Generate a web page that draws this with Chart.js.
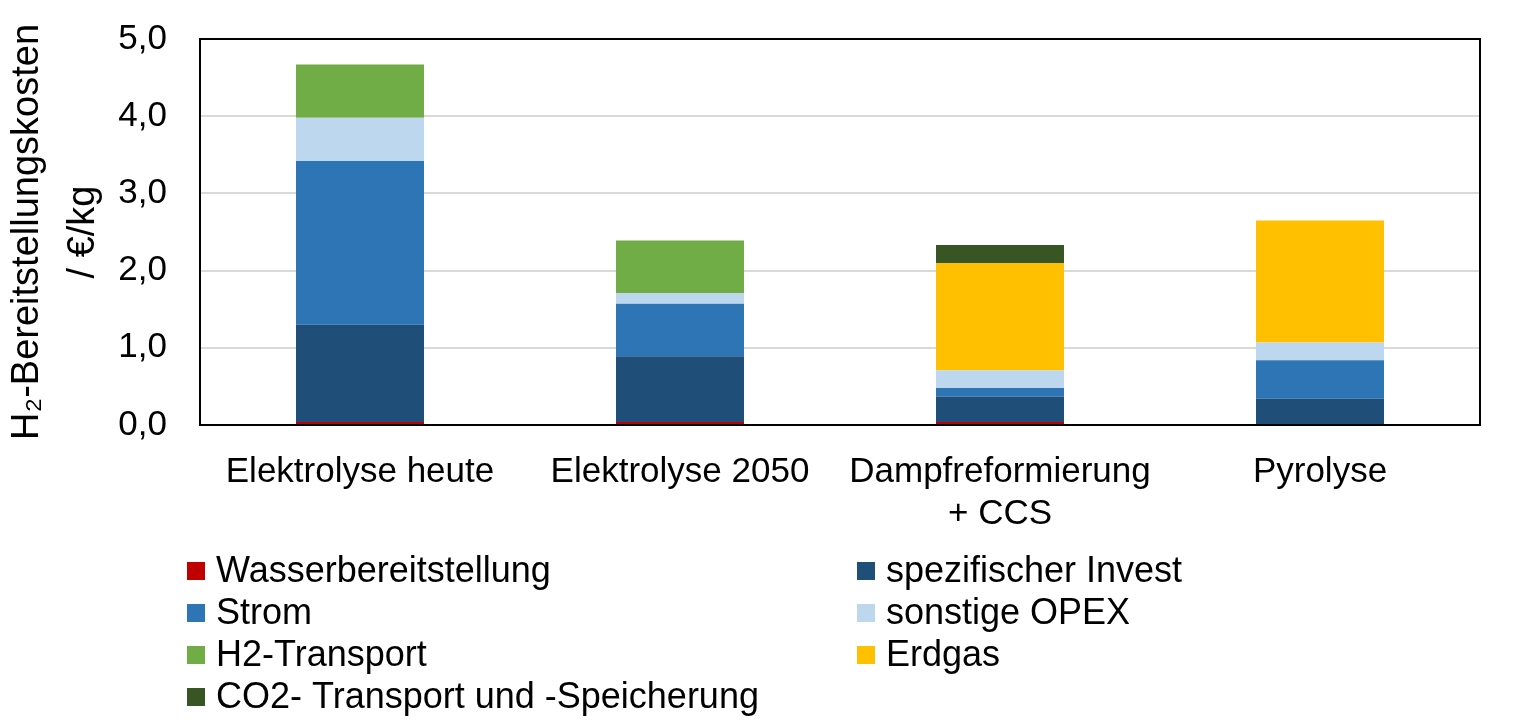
<!DOCTYPE html>
<html>
<head>
<meta charset="utf-8">
<script src="https://cdn.jsdelivr.net/npm/chart.js@4"></script>
<style>
  html, body { margin: 0; padding: 0; background: #fff; }
  #wrap { width: 1517px; height: 723px; }
</style>
</head>
<body>
<div id="wrap"><canvas id="myChart" width="1517" height="723"></canvas></div>
<script>
var categories = ["Elektrolyse heute", "Elektrolyse 2050", ["Dampfreformierung", "+ CCS"], "Pyrolyse"];

var wasser = [0.04, 0.04, 0.04, 0];
var invest = [1.26, 0.85, 0.33, 0.34];
var strom  = [2.12, 0.68, 0.11, 0.50];
var opex   = [0.56, 0.14, 0.23, 0.23];
var h2Transport = [0.69, 0.68, 0, 0];
var erdgas = [0, 0, 1.39, 1.58];
var co2Transport = [0, 0, 0.23, 0];

var yTicks = [0, 1, 2, 3, 4, 5];

var FONT = "'Liberation Sans', Arial, sans-serif";

// legend drawn in two columns, row by row, like the original
var legendPlugin = {
  id: "twoColLegend",
  afterDraw: function(chart) {
    var ctx = chart.ctx;
    var ds = chart.data.datasets;
    ctx.save();
    ctx.font = "36px " + FONT;
    ctx.textBaseline = "middle";
    ctx.textAlign = "left";
    for (var i = 0; i < ds.length; i++) {
      var col = i % 2, row = Math.floor(i / 2);
      var x = col == 0 ? 187 : 857;
      var y = 571 + row * 42;
      ctx.fillStyle = ds[i].backgroundColor;
      ctx.fillRect(x, y - 9, 18, 18);
      ctx.fillStyle = "#000";
      ctx.fillText(ds[i].label, x + 29, y + 1);
    }
    // plot frame
    var a = chart.chartArea;
    ctx.strokeStyle = "#000";
    ctx.lineWidth = 2;
    ctx.strokeRect(a.left, a.top, a.right - a.left, a.bottom - a.top);
    ctx.restore();
  }
};

var ctx = document.getElementById("myChart");
var myChart = new Chart(ctx, {
  type: "bar",
  data: {
    labels: categories,
    datasets: [
      { label: "Wasserbereitstellung", data: wasser, backgroundColor: "#C00000" },
      { label: "spezifischer Invest", data: invest, backgroundColor: "#1F4E79" },
      { label: "Strom", data: strom, backgroundColor: "#2E75B6" },
      { label: "sonstige OPEX", data: opex, backgroundColor: "#BDD7EE" },
      { label: "H2-Transport", data: h2Transport, backgroundColor: "#70AD47" },
      { label: "Erdgas", data: erdgas, backgroundColor: "#FFC000" },
      { label: "CO2- Transport und -Speicherung", data: co2Transport, backgroundColor: "#375623" }
    ]
  },
  options: {
    responsive: false,
    animation: false,
    devicePixelRatio: 1,
    datasets: { bar: { barPercentage: 0.4, categoryPercentage: 1, borderWidth: 0 } },
    layout: { padding: { top: 39, right: 37, left: 0, bottom: 0 } },
    plugins: {
      legend: { display: false },
      tooltip: { enabled: false }
    },
    scales: {
      x: {
        stacked: true,
        grid: { display: false, drawTicks: false },
        border: { display: false },
        ticks: {
          color: "#000",
          font: { family: FONT, size: 35, lineHeight: 1.2 },
          padding: 26,
          maxRotation: 0,
          autoSkip: false
        },
        afterFit: function(scale) { scale.height = 298; }
      },
      y: {
        stacked: true,
        min: 0,
        max: 5,
        afterBuildTicks: function(scale) {
          scale.ticks = yTicks.map(function(v) { return { value: v }; });
        },
        grid: { color: "#D9D9D9", lineWidth: 2, drawTicks: true, tickLength: 33, tickColor: "rgba(0,0,0,0)" },
        border: { display: false },
        ticks: {
          color: "#000",
          font: { family: FONT, size: 35 },
          padding: 0,
          callback: function(v) { return v.toFixed(1).replace(".", ","); }
        },
        title: {
          display: true,
          text: ["H\u2082-Bereitstellungskosten", "/ \u20AC/kg"],
          color: "#000",
          font: { family: FONT, size: 38, lineHeight: 1.47 },
          padding: { top: 0, bottom: 0 }
        },
        afterFit: function(scale) { scale.width = 200; }
      }
    }
  },
  plugins: [legendPlugin]
});
</script>
</body>
</html>
